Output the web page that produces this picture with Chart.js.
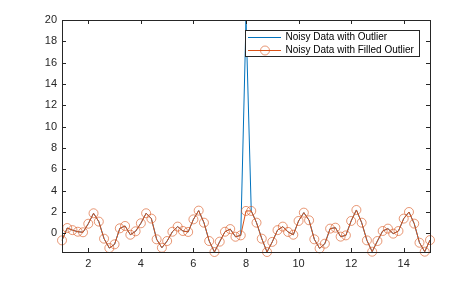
<!DOCTYPE html>
<html>
<head>
<meta charset="utf-8">
<script src="https://cdn.jsdelivr.net/npm/chart.js@4.4.1/dist/chart.umd.min.js"></script>
<style>
  html, body { margin: 0; padding: 0; background: #fff; }
  #wrap { width: 474px; height: 285px; }
</style>
</head>
<body>
<div id="wrap"><canvas id="chart_fillOutliers"></canvas></div>
<script>
// x = 1:0.2:15
var xValues = [
  1.0, 1.2, 1.4, 1.6, 1.8, 2.0, 2.2, 2.4, 2.6, 2.8,
  3.0, 3.2, 3.4, 3.6, 3.8, 4.0, 4.2, 4.4, 4.6, 4.8,
  5.0, 5.2, 5.4, 5.6, 5.8, 6.0, 6.2, 6.4, 6.6, 6.8,
  7.0, 7.2, 7.4, 7.6, 7.8, 8.0, 8.2, 8.4, 8.6, 8.8,
  9.0, 9.2, 9.4, 9.6, 9.8, 10.0, 10.2, 10.4, 10.6, 10.8,
  11.0, 11.2, 11.4, 11.6, 11.8, 12.0, 12.2, 12.4, 12.6, 12.8,
  13.0, 13.2, 13.4, 13.6, 13.8, 14.0, 14.2, 14.4, 14.6, 14.8,
  15.0
];
var noisyData = [
  -0.66, 0.50, 0.30, 0.15, 0.10, 0.90, 1.88, 1.10, -0.50, -1.38,
  -1.03, 0.47, 0.69, -0.13, 0.19, 0.94, 1.88, 1.38, -0.56, -1.35,
  -0.72, 0.15, 0.63, 0.22, 0.13, 1.31, 2.13, 1.00, -0.72, -1.75,
  -0.78, 0.15, 0.40, -0.32, -0.19, 20.00, 2.10, 1.00, -0.50, -1.75,
  -0.80, 0.30, 0.63, 0.13, -0.13, 1.16, 1.94, 1.22, -0.56, -1.41,
  -0.97, 0.44, 0.53, -0.31, -0.19, 1.16, 2.19, 1.00, -0.66, -1.72,
  -0.72, 0.22, 0.44, -0.03, 0.22, 1.38, 2.00, 0.91, -0.88, -1.72,
  -0.63
];
var filledData = [
  -0.66, 0.50, 0.30, 0.15, 0.10, 0.90, 1.88, 1.10, -0.50, -1.38,
  -1.03, 0.47, 0.69, -0.13, 0.19, 0.94, 1.88, 1.38, -0.56, -1.35,
  -0.72, 0.15, 0.63, 0.22, 0.13, 1.31, 2.13, 1.00, -0.72, -1.75,
  -0.78, 0.15, 0.40, -0.32, -0.19, 2.10, 2.10, 1.00, -0.50, -1.75,
  -0.80, 0.30, 0.63, 0.13, -0.13, 1.16, 1.94, 1.22, -0.56, -1.41,
  -0.97, 0.44, 0.53, -0.31, -0.19, 1.16, 2.19, 1.00, -0.66, -1.72,
  -0.72, 0.22, 0.44, -0.03, 0.22, 1.38, 2.00, 0.91, -0.88, -1.72,
  -0.63
];
var xTicks = [2, 4, 6, 8, 10, 12, 14];
var yTicks = [0, 2, 4, 6, 8, 10, 12, 14, 16, 18, 20];
var seriesLabels = ['Noisy Data with Outlier', 'Noisy Data with Filled Outlier'];

var axisColor = '#262626';
var tickFont = { family: 'Liberation Sans, Arial, Helvetica, sans-serif', size: 11 };

function toPoints(ys) {
  return xValues.map(function (x, i) { return { x: x, y: ys[i] }; });
}

// axis tight: data limits
var allY = noisyData.concat(filledData);
var yMin = Math.min.apply(null, allY);
var yMax = Math.max.apply(null, allY);

var chart_fillOutliers = new Chart(document.getElementById('chart_fillOutliers'), {
    type: 'line',
    data: {
        datasets: [
            {
                label: seriesLabels[0],
                data: toPoints(noisyData),
                borderColor: '#0072BD',
                borderWidth: 1,
                pointRadius: 0,
                tension: 0,
                order: 1
            },
            {
                label: seriesLabels[1],
                data: toPoints(filledData),
                borderColor: '#D95319',
                borderWidth: 1,
                pointRadius: 4.5,
                pointBorderWidth: 0.6,
                pointBorderColor: '#D95319',
                pointBackgroundColor: 'rgba(0,0,0,0)',
                pointStyle: 'circle',
                tension: 0,
                clip: 6,
                order: 0
            }
        ]
    },
    options: {
        animation: false,
        responsive: true,
        maintainAspectRatio: false,
        layout: { padding: { left: 0, top: 20, right: 44, bottom: 0 } },
        plugins: {
            legend: { display: false },
            tooltip: { enabled: false }
        },
        scales: {
            x: {
                type: 'linear',
                min: xValues[0],
                max: xValues[xValues.length - 1],
                grid: { display: false, drawTicks: false },
                border: { display: false },
                afterBuildTicks: function (scale) {
                    scale.ticks = xTicks.map(function (v) { return { value: v }; });
                },
                afterFit: function (scale) { scale.height = 33; },
                ticks: { color: axisColor, font: tickFont, padding: 5, maxRotation: 0 }
            },
            y: {
                type: 'linear',
                min: yMin,
                max: yMax,
                grid: { display: false, drawTicks: false },
                border: { display: false },
                afterBuildTicks: function (scale) {
                    scale.ticks = yTicks.map(function (v) { return { value: v }; });
                },
                afterFit: function (scale) { scale.width = 62; },
                ticks: { color: axisColor, font: tickFont, padding: 5 }
            }
        }
    },
    plugins: [{
        id: 'whiteBackground',
        beforeDraw: function (chart) {
            var ctx = chart.ctx;
            ctx.save();
            ctx.fillStyle = 'white';
            ctx.fillRect(0, 0, chart.width, chart.height);
            ctx.restore();
        }
    }, {
        id: 'matlabAxes',
        afterDraw: function (chart) {
            var ctx = chart.ctx;
            var a = chart.chartArea;
            var xs = chart.scales.x, ys = chart.scales.y;
            var tl = 4;
            ctx.save();
            ctx.strokeStyle = axisColor;
            ctx.lineWidth = 1;
            ctx.beginPath();
            xs.ticks.forEach(function (t) {
                var px = Math.round(xs.getPixelForValue(t.value)) + 0.5;
                ctx.moveTo(px, a.bottom); ctx.lineTo(px, a.bottom - tl);
                ctx.moveTo(px, a.top); ctx.lineTo(px, a.top + tl);
            });
            ys.ticks.forEach(function (t) {
                var py = Math.round(ys.getPixelForValue(t.value)) + 0.5;
                ctx.moveTo(a.left, py); ctx.lineTo(a.left + tl, py);
                ctx.moveTo(a.right, py); ctx.lineTo(a.right - tl, py);
            });
            ctx.stroke();
            ctx.strokeRect(Math.round(a.left) + 0.5, Math.round(a.top) + 0.5,
                           Math.round(a.right - a.left), Math.round(a.bottom - a.top));

            // legend box, upper right inside axes
            var bx = 245.5, by = 30.5, bw = 174, bh = 26;
            ctx.fillStyle = 'white';
            ctx.fillRect(bx, by, bw, bh);
            ctx.strokeStyle = axisColor;
            ctx.strokeRect(bx, by, bw, bh);
            ctx.font = '10px Liberation Sans, Arial, Helvetica, sans-serif';
            ctx.textBaseline = 'middle';
            ctx.textAlign = 'left';
            var rows = [37, 50];
            chart.data.datasets.forEach(function (ds, i) {
                var ry = rows[i] + 0.5;
                ctx.strokeStyle = ds.borderColor;
                ctx.lineWidth = 1;
                ctx.beginPath();
                ctx.moveTo(248, ry); ctx.lineTo(281, ry);
                ctx.stroke();
                if (ds.pointRadius > 0) {
                    ctx.lineWidth = ds.pointBorderWidth;
                    ctx.beginPath();
                    ctx.arc(265, ry, ds.pointRadius, 0, Math.PI * 2);
                    ctx.stroke();
                }
                ctx.fillStyle = '#000';
                ctx.fillText(ds.label, 285.5, ry);
            });
            ctx.restore();
        }
    }]
});
</script>
</body>
</html>
